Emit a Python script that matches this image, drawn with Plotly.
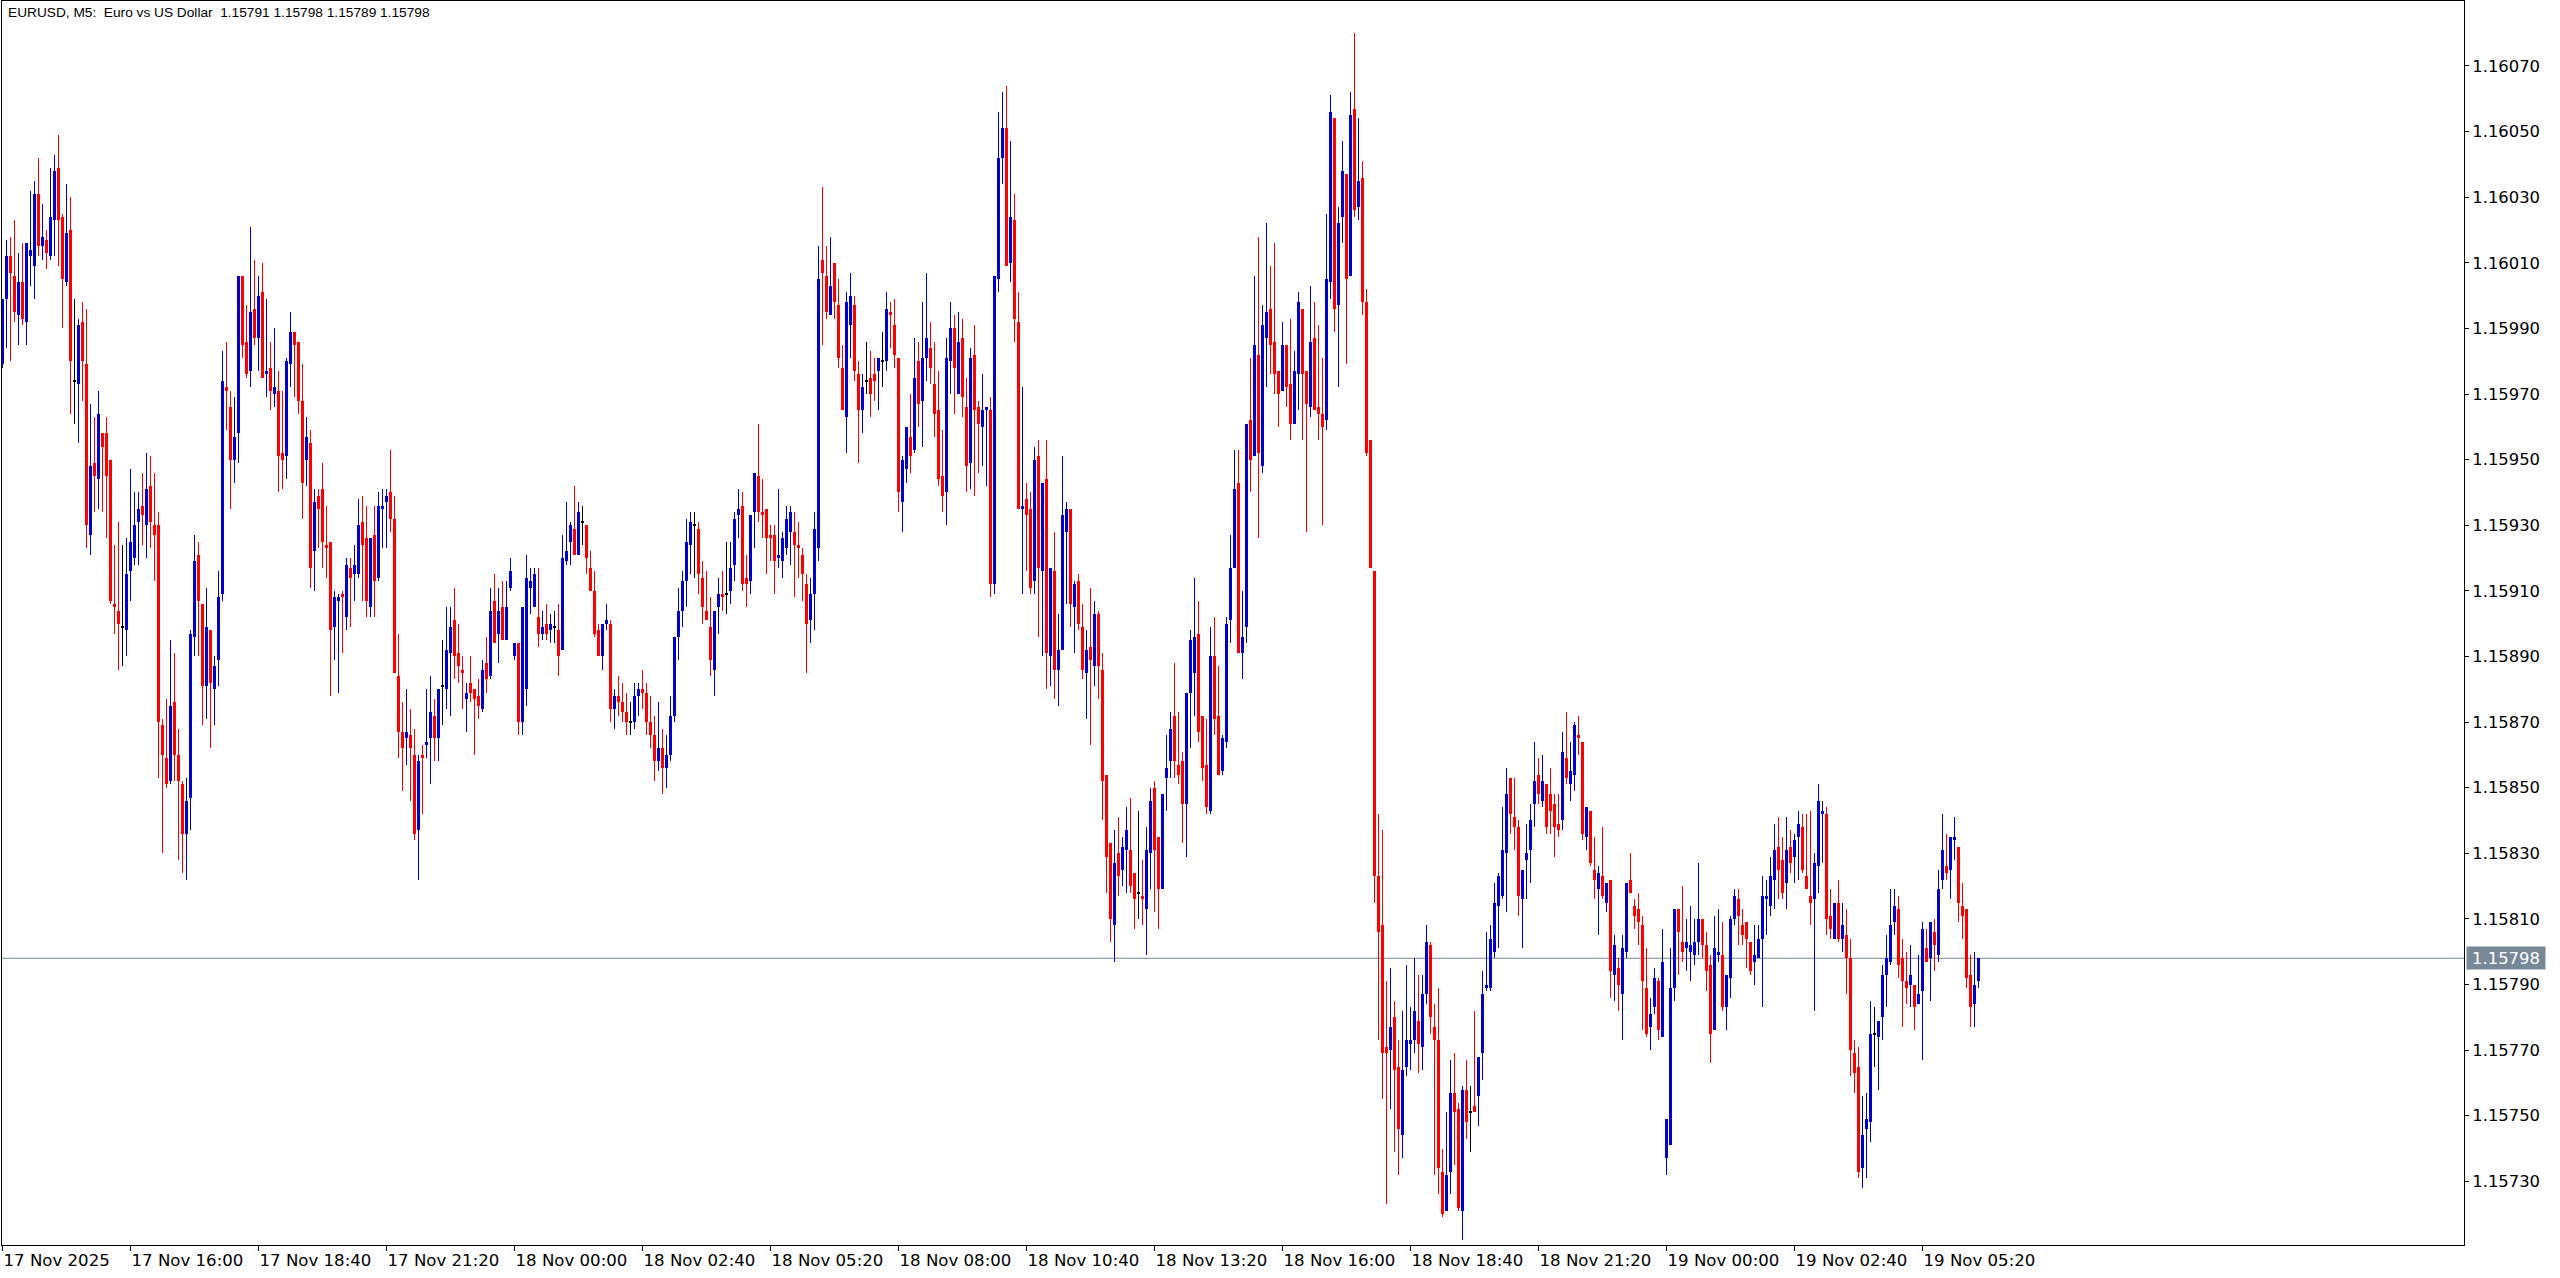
import plotly.graph_objects as go

BASE = 1.15
POINT = 0.00001

# OHLC in points (1e-5) above 1.15000, EURUSD M5, 17 Nov 13:20 .. 19 Nov 06:30
open_pts = [
    979, 999, 1012, 1006, 994, 1004, 992, 1012, 1009, 1031,
    1015, 1017, 1012, 1023, 1039, 1024, 1004, 1020, 974, 973,
    992, 979, 927, 949, 944, 958, 958, 950, 906, 904,
    899, 898, 916, 920, 931, 936, 930, 942, 930, 930,
    869, 859, 852, 876, 860, 851, 836, 847, 896, 921,
    906, 881, 898, 880, 889, 909, 972, 966, 950, 958,
    1006, 986, 977, 996, 987, 1001, 976, 978, 970, 971,
    952, 951, 979, 989, 986, 968, 950, 955, 922, 939,
    941, 924, 925, 899, 907, 909, 902, 917, 915, 915,
    931, 926, 905, 927, 914, 935, 937, 940, 932, 884,
    867, 865, 866, 860, 837, 860, 863, 865, 872, 865,
    881, 880, 891, 901, 891, 886, 877, 882, 880, 878,
    874, 888, 884, 907, 897, 905, 895, 911, 890, 894,
    870, 880, 911, 905, 902, 897, 900, 898, 899, 898,
    892, 919, 925, 929, 921, 931, 930, 917, 910, 898,
    890, 900, 900, 874, 878, 876, 873, 870, 870, 878,
    880, 879, 870, 866, 858, 862, 856, 860, 872, 896,
    904, 913, 924, 930, 929, 914, 904, 899, 886, 905,
    909, 909, 910, 918, 933, 936, 914, 913, 934, 945,
    934, 935, 927, 927, 920, 919, 923, 928, 928, 924,
    921, 912, 901, 909, 923, 1011, 1006, 994, 1010, 997,
    978, 963, 991, 997, 976, 965, 974, 975, 976, 977,
    980, 980, 995, 991, 981, 937, 947, 957, 953, 980,
    968, 981, 984, 973, 965, 945, 940, 980, 990, 970,
    987, 966, 949, 982, 966, 960, 965, 965, 912, 1005,
    1042, 1051, 1010, 1023, 992, 935, 938, 935, 913, 951,
    916, 944, 890, 916, 886, 892, 928, 935, 905, 913,
    899, 885, 893, 887, 903, 886, 854, 833, 808, 830,
    825, 831, 831, 824, 818, 817, 813, 830, 850, 835,
    819, 853, 858, 872, 857, 858, 845, 879, 885, 897,
    872, 857, 843, 890, 872, 855, 864, 901, 917, 943,
    891, 899, 962, 951, 982, 948, 987, 996, 986, 977,
    971, 985, 973, 961, 976, 996, 977, 966, 987, 966,
    964, 962, 1004, 1054, 997, 1024, 1037, 1006, 1057, 1027,
    1036, 998, 956, 916, 823, 808, 771, 770, 780, 765,
    744, 765, 772, 773, 779, 771, 787, 802, 777, 773,
    733, 721, 733, 757, 752, 721, 758, 751, 753, 756,
    769, 789, 789, 800, 814, 817, 830, 853, 841, 838,
    816, 828, 831, 845, 854, 846, 851, 848, 845, 839,
    840, 859, 851, 854, 866, 864, 835, 843, 825, 819,
    823, 815, 822, 793, 795, 787, 800, 822, 814, 813,
    808, 789, 777, 783, 791, 774, 737, 741, 789, 813,
    803, 801, 800, 799, 803, 810, 802, 796, 776, 799,
    799, 783, 792, 810, 816, 808, 809, 803, 797, 798,
    804, 816, 814, 822, 832, 828, 821, 832, 829, 835,
    838, 823, 817, 816, 826, 842, 842, 811, 804, 815,
    804, 805, 798, 769, 765, 734, 746, 748, 775, 774,
    780, 793, 797, 809, 813, 798, 791, 790, 790, 784,
    788, 801, 798, 806, 799, 822, 826, 825, 834, 832,
    814, 813, 793, 784, 791,
]

high_pts = [
    999, 1017, 1018, 1023, 1013, 1016, 1016, 1032, 1035, 1042,
    1028, 1020, 1039, 1043, 1049, 1025, 1034, 1030, 999, 993,
    998, 996, 967, 963, 971, 958, 963, 950, 924, 931,
    924, 926, 947, 940, 940, 946, 952, 951, 946, 934,
    871, 877, 895, 891, 868, 852, 853, 898, 927, 925,
    906, 911, 898, 890, 916, 983, 986, 971, 969, 1006,
    1006, 997, 1021, 1011, 1006, 1010, 999, 986, 990, 977,
    971, 981, 995, 989, 986, 979, 963, 959, 941, 941,
    949, 936, 925, 910, 909, 910, 920, 920, 924, 938,
    939, 936, 926, 936, 940, 941, 941, 953, 939, 897,
    876, 880, 874, 868, 860, 863, 880, 884, 877, 880,
    895, 905, 905, 911, 900, 890, 882, 890, 880, 883,
    889, 896, 911, 915, 911, 913, 913, 920, 894, 894,
    905, 921, 917, 917, 917, 904, 906, 903, 904, 906,
    927, 937, 931, 942, 937, 936, 930, 922, 916, 900,
    900, 906, 901, 880, 884, 882, 879, 876, 882, 882,
    886, 882, 878, 872, 876, 868, 866, 878, 896, 911,
    916, 932, 934, 934, 931, 919, 916, 908, 904, 914,
    916, 925, 925, 934, 941, 940, 921, 933, 946, 961,
    944, 935, 930, 930, 941, 928, 936, 936, 934, 931,
    923, 915, 914, 934, 1015, 1033, 1015, 1018, 1010, 1005,
    985, 1001, 1007, 1000, 980, 976, 986, 983, 981, 981,
    989, 1001, 998, 999, 981, 951, 960, 970, 987, 986,
    998, 1007, 992, 986, 977, 959, 987, 998, 994, 995,
    993, 975, 984, 991, 968, 976, 966, 969, 1006, 1056,
    1062, 1064, 1047, 1031, 1001, 972, 943, 940, 954, 956,
    943, 956, 917, 928, 903, 951, 937, 935, 913, 915,
    906, 898, 911, 907, 904, 891, 854, 833, 837, 841,
    835, 844, 847, 824, 843, 828, 838, 850, 852, 835,
    848, 866, 873, 888, 873, 861, 879, 898, 914, 907,
    872, 871, 899, 902, 887, 866, 902, 927, 953, 953,
    910, 961, 981, 1006, 1018, 997, 1022, 1009, 1016, 977,
    992, 985, 993, 983, 1001, 996, 977, 1003, 998, 991,
    981, 1025, 1061, 1054, 1027, 1047, 1037, 1062, 1080, 1054,
    1041, 1002, 956, 916, 842, 837, 791, 795, 785, 773,
    782, 796, 783, 798, 793, 793, 808, 803, 784, 789,
    740, 751, 767, 769, 754, 759, 767, 759, 782, 768,
    794, 806, 808, 821, 824, 844, 856, 853, 853, 840,
    825, 839, 845, 864, 859, 860, 851, 856, 848, 848,
    867, 873, 864, 870, 872, 864, 844, 843, 835, 826,
    838, 821, 822, 805, 798, 805, 821, 830, 816, 818,
    811, 801, 786, 795, 792, 807, 749, 801, 813, 813,
    820, 810, 814, 810, 827, 810, 806, 799, 811, 813,
    809, 793, 811, 819, 819, 813, 809, 803, 808, 808,
    823, 822, 829, 839, 841, 835, 841, 837, 836, 843,
    842, 842, 843, 830, 851, 846, 844, 819, 815, 822,
    815, 813, 804, 773, 771, 756, 757, 785, 783, 779,
    796, 805, 819, 819, 817, 804, 800, 802, 790, 799,
    809, 807, 809, 810, 825, 842, 836, 835, 841, 832,
    821, 813, 799, 800, 798,
]

low_pts = [
    978, 984, 980, 992, 985, 991, 985, 1003, 999, 1012,
    1011, 1008, 1011, 1012, 1009, 990, 1003, 964, 961, 955,
    968, 923, 921, 934, 935, 934, 926, 906, 897, 886,
    887, 890, 907, 918, 918, 924, 920, 923, 913, 853,
    830, 850, 851, 852, 828, 824, 822, 837, 890, 890,
    869, 871, 862, 869, 881, 907, 959, 935, 943, 949,
    981, 975, 972, 985, 977, 975, 969, 965, 966, 940,
    941, 944, 972, 969, 964, 932, 942, 911, 910, 923,
    917, 914, 878, 889, 879, 891, 898, 899, 907, 914,
    907, 902, 902, 902, 913, 923, 923, 928, 885, 859,
    849, 857, 846, 834, 822, 842, 859, 851, 858, 858,
    869, 874, 872, 883, 882, 874, 867, 876, 860, 871,
    873, 879, 883, 894, 888, 895, 895, 910, 889, 866,
    866, 875, 903, 905, 893, 895, 895, 894, 894, 884,
    892, 918, 918, 921, 921, 924, 915, 910, 896, 890,
    886, 898, 870, 868, 872, 870, 866, 866, 868, 872,
    874, 866, 862, 852, 855, 848, 850, 858, 870, 889,
    899, 905, 915, 914, 909, 900, 901, 884, 878, 897,
    904, 903, 906, 913, 926, 910, 905, 909, 923, 931,
    926, 915, 919, 909, 917, 914, 921, 918, 908, 914,
    907, 885, 894, 898, 919, 985, 993, 994, 993, 978,
    965, 952, 981, 974, 949, 958, 970, 963, 968, 965,
    972, 977, 984, 978, 934, 928, 943, 946, 952, 960,
    954, 974, 973, 957, 942, 934, 930, 970, 964, 970,
    963, 940, 941, 939, 946, 948, 942, 908, 909, 1001,
    1034, 1009, 1004, 986, 935, 909, 916, 909, 909, 896,
    890, 880, 881, 877, 875, 892, 906, 899, 891, 898,
    883, 871, 863, 881, 877, 840, 818, 803, 797, 817,
    820, 818, 818, 807, 810, 808, 799, 819, 812, 807,
    819, 843, 853, 853, 851, 833, 829, 862, 872, 864,
    852, 842, 842, 866, 854, 854, 862, 894, 917, 891,
    883, 894, 940, 951, 926, 946, 972, 976, 970, 960,
    971, 966, 956, 961, 965, 956, 928, 963, 965, 956,
    930, 959, 999, 989, 972, 1016, 979, 1006, 1024, 1023,
    994, 951, 917, 815, 773, 755, 723, 752, 739, 732,
    737, 762, 764, 769, 763, 764, 784, 775, 732, 726,
    719, 721, 726, 735, 721, 712, 743, 739, 751, 747,
    761, 788, 788, 798, 801, 816, 812, 836, 831, 811,
    801, 816, 821, 838, 845, 844, 836, 836, 829, 835,
    837, 851, 846, 849, 860, 834, 831, 826, 816, 805,
    816, 812, 786, 785, 782, 773, 798, 818, 807, 802,
    776, 774, 770, 781, 773, 774, 732, 741, 785, 793,
    797, 794, 791, 796, 799, 798, 788, 766, 776, 797,
    782, 776, 786, 808, 802, 802, 795, 793, 790, 798,
    783, 805, 811, 813, 816, 816, 813, 824, 821, 822,
    824, 819, 808, 782, 818, 827, 805, 804, 804, 803,
    800, 787, 762, 757, 731, 728, 731, 742, 765, 758,
    773, 783, 796, 805, 792, 777, 784, 783, 776, 784,
    767, 797, 785, 794, 797, 819, 822, 816, 828, 809,
    804, 789, 777, 777, 789,
]

close_pts = [
    999, 1012, 1007, 995, 1004, 993, 1016, 1014, 1031, 1015,
    1018, 1013, 1024, 1038, 1023, 1005, 1019, 980, 974, 991,
    980, 930, 948, 945, 964, 954, 945, 907, 905, 900,
    899, 915, 925, 930, 935, 933, 941, 931, 927, 870,
    860, 851, 875, 860, 852, 836, 846, 897, 919, 907,
    881, 899, 882, 887, 908, 974, 971, 950, 957, 1006,
    985, 976, 995, 987, 1000, 975, 977, 971, 972, 951,
    950, 980, 989, 985, 968, 943, 957, 917, 937, 935,
    925, 923, 898, 908, 908, 908, 918, 914, 918, 930,
    924, 907, 926, 913, 936, 936, 939, 932, 885, 867,
    862, 867, 862, 836, 858, 859, 864, 873, 865, 880,
    881, 892, 899, 890, 887, 885, 879, 879, 877, 875,
    886, 883, 904, 894, 904, 895, 905, 916, 894, 870,
    905, 914, 913, 915, 897, 899, 897, 900, 899, 890,
    920, 922, 930, 921, 934, 931, 920, 910, 897, 890,
    900, 901, 874, 878, 876, 873, 870, 870, 878, 880,
    879, 870, 866, 858, 862, 856, 860, 872, 896, 904,
    913, 925, 931, 930, 915, 905, 901, 889, 904, 909,
    908, 909, 917, 932, 935, 912, 912, 933, 946, 934,
    933, 926, 926, 919, 921, 926, 932, 934, 924, 923,
    915, 900, 909, 929, 1005, 1007, 995, 1003, 998, 981,
    965, 998, 1000, 977, 965, 972, 974, 970, 974, 981,
    980, 996, 994, 982, 940, 950, 960, 951, 975, 967,
    981, 987, 978, 964, 944, 939, 981, 990, 978, 986,
    969, 948, 981, 965, 961, 965, 966, 912, 1006, 1042,
    1051, 1009, 1024, 993, 935, 936, 933, 911, 950, 917,
    943, 891, 917, 886, 892, 933, 935, 906, 912, 900,
    886, 892, 889, 903, 887, 852, 829, 810, 827, 823,
    832, 837, 820, 816, 818, 816, 831, 846, 831, 819,
    848, 856, 868, 858, 854, 845, 879, 895, 896, 867,
    856, 844, 890, 871, 854, 865, 900, 917, 941, 891,
    896, 961, 950, 985, 952, 991, 995, 985, 976, 970,
    985, 972, 961, 977, 998, 976, 967, 986, 965, 964,
    960, 1005, 1056, 996, 1022, 1038, 1005, 1055, 1026, 1035,
    998, 952, 917, 823, 806, 769, 769, 777, 764, 746,
    764, 773, 773, 782, 772, 787, 803, 780, 773, 734,
    720, 732, 757, 751, 722, 758, 748, 751, 751, 768,
    787, 790, 804, 815, 823, 831, 848, 842, 838, 817,
    825, 830, 840, 852, 848, 852, 838, 843, 838, 837,
    861, 853, 855, 869, 865, 836, 844, 827, 822, 824,
    817, 821, 794, 802, 790, 801, 821, 818, 811, 809,
    791, 775, 781, 792, 776, 797, 749, 789, 813, 806,
    800, 803, 802, 803, 810, 802, 794, 775, 801, 800,
    783, 793, 810, 817, 811, 805, 804, 794, 799, 804,
    817, 817, 823, 831, 825, 818, 831, 827, 834, 839,
    825, 819, 815, 827, 846, 843, 810, 807, 815, 804,
    808, 798, 770, 763, 733, 744, 749, 775, 775, 779,
    793, 798, 808, 814, 796, 791, 789, 793, 783, 787,
    807, 797, 809, 802, 819, 831, 824, 835, 835, 815,
    811, 792, 783, 790, 798,
]

tick_index = [0, 32, 64, 96, 128, 160, 192, 224, 256, 288, 320, 352, 384, 416, 448, 480]
tick_labels = ["17 Nov 2025", "17 Nov 16:00", "17 Nov 18:40", "17 Nov 21:20",
               "18 Nov 00:00", "18 Nov 02:40", "18 Nov 05:20", "18 Nov 08:00",
               "18 Nov 10:40", "18 Nov 13:20", "18 Nov 16:00", "18 Nov 18:40",
               "18 Nov 21:20", "19 Nov 00:00", "19 Nov 02:40", "19 Nov 05:20"]
price_ticks = [1.15730, 1.15750, 1.15770, 1.15790, 1.15810, 1.15830, 1.15850,
               1.15870, 1.15890, 1.15910, 1.15930, 1.15950, 1.15970, 1.15990,
               1.16010, 1.16030, 1.16050, 1.16070]
last_price = 1.15798
header = "EURUSD, M5:\u00a0 Euro vs US Dollar\u00a0 1.15791 1.15798 1.15789 1.15798"

BULL, BEAR, DOJI = "#0000CD", "#FF0000", "#000000"

n = len(open_pts)
xs = list(range(n))
o = [BASE + v * POINT for v in open_pts]
h = [BASE + v * POINT for v in high_pts]
l = [BASE + v * POINT for v in low_pts]
c = [BASE + v * POINT for v in close_pts]

colors, wick_base, wick_len, body_base, body_len = [], [], [], [], []
for oi, hi, li, ci in zip(o, h, l, c):
    if ci > oi + 1e-9:
        colors.append(BULL)
    elif ci < oi - 1e-9:
        colors.append(BEAR)
    else:
        colors.append(DOJI)
    lo = min(li, oi, ci)
    hi2 = max(hi, oi, ci)
    wick_base.append(lo)
    wick_len.append(hi2 - lo)
    if abs(ci - oi) < 0.35 * POINT:
        body_base.append(min(oi, ci) - 0.15 * POINT)
        body_len.append(0.3 * POINT)
    else:
        body_base.append(min(oi, ci))
        body_len.append(abs(ci - oi))

fig = go.Figure()
fig.add_trace(go.Bar(x=xs, y=wick_len, base=wick_base, width=0.25,
                     marker=dict(color=colors, line=dict(width=0)),
                     hoverinfo="skip"))
fig.add_trace(go.Bar(x=xs, y=body_len, base=body_base, width=0.75,
                     marker=dict(color=colors, line=dict(width=0)),
                     hoverinfo="skip"))

W, H = 2560, 1278
ML, MR, MT, MB = 2, 96, 1, 33
plot_w = W - ML - MR
px_per_bar = 4.0
x0 = -0.125
x1 = x0 + plot_w / px_per_bar

fig.update_layout(
    width=W, height=H, autosize=False,
    margin=dict(l=ML, r=MR, t=MT, b=MB, pad=0),
    paper_bgcolor="white", plot_bgcolor="white",
    showlegend=False, barmode="overlay", bargap=0,
    font=dict(family="DejaVu Sans", color="black"),
    xaxis=dict(range=[x0, x1], tickmode="array", tickvals=tick_index, ticktext=tick_labels,
               ticks="outside", ticklen=5, tickwidth=1, tickcolor="black",
               ticklabelposition="outside right",
               showline=True, linecolor="black", linewidth=1, mirror=True,
               showgrid=False, zeroline=False, fixedrange=True,
               tickfont=dict(family="DejaVu Sans", size=16.6, color="black")),
    yaxis=dict(range=[1.157106, 1.160898], side="right", tickmode="array",
               tickvals=price_ticks, ticktext=["%.5f" % v for v in price_ticks],
               ticks="outside", ticklen=4, tickwidth=1, tickcolor="black",
               showline=True, linecolor="black", linewidth=1, mirror=True,
               showgrid=False, zeroline=False, fixedrange=True,
               tickfont=dict(family="DejaVu Sans", size=16.4, color="black")),
    shapes=[dict(type="line", xref="paper", x0=0, x1=1, yref="y",
                 y0=last_price, y1=last_price, layer="below",
                 line=dict(color="#778899", width=1))],
    annotations=[
        dict(text=header, xref="paper", yref="paper", x=0, y=1,
             xanchor="left", yanchor="top", xshift=4, yshift=-2, showarrow=False,
             font=dict(family="Liberation Sans", size=13.7, color="black")),
        dict(text="%.5f" % last_price, xref="paper", yref="y", x=1, y=last_price,
             xanchor="left", yanchor="middle", xshift=2, showarrow=False,
             bgcolor="#778899", borderpad=2, width=74, height=18,
             font=dict(family="DejaVu Sans", size=16.4, color="white")),
    ],
)

fig.write_html("out.html",
               config={"displayModeBar": False},
               post_script="document.body.style.margin='0';document.body.style.overflow='hidden';")
